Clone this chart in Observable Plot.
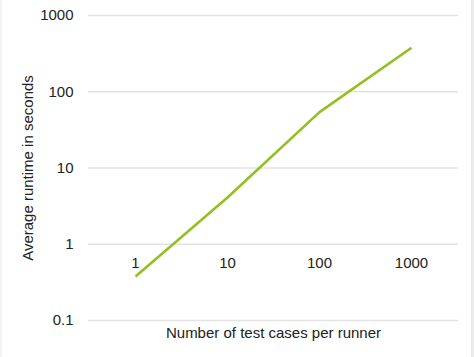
<!DOCTYPE html>
<html>
<head>
<meta charset="utf-8">
<script src="https://cdn.jsdelivr.net/npm/d3@7"></script>
<script src="https://cdn.jsdelivr.net/npm/@observablehq/plot@0.6"></script>
<style>
  html, body { margin: 0; padding: 0; background: #fff; }
  #wrap { position: relative; width: 474px; height: 357px; overflow: hidden; }
  #wrap::before { content: ""; position: absolute; left: 0; top: 0; width: 2px; height: 357px; background: #f2f2f2; }
  #wrap::after { content: ""; position: absolute; left: 471px; top: 0; width: 3px; height: 357px; background: #ebebeb; }
</style>
</head>
<body>
<div id="wrap"></div>
<script>
const categories = ["1", "10", "100", "1000"];
const runtimes = [0.377, 4.1, 54, 378];
const yTicks = [0.1, 1, 10, 100, 1000];
const yTickLabels = ["0.1", "1", "10", "100", "1000"];

const data = categories.map((c, i) => ({cases: c, runtime: runtimes[i]}));

const chart = Plot.plot({
  width: 474,
  height: 357,
  marginLeft: 88,
  marginRight: 16,
  marginTop: 15,
  marginBottom: 37,
  style: {fontFamily: "'Liberation Sans', Arial, sans-serif", fontSize: "15px", color: "#222", background: "#fff"},
  x: {type: "point", domain: categories, padding: 0.5, axis: null},
  y: {type: "log", domain: [0.1, 1000], axis: null},
  marks: [
    Plot.ruleY(yTicks, {stroke: "#e3e3e3", strokeWidth: 1.3}),
    Plot.axisY({ticks: yTicks, tickFormat: d => yTickLabels[yTicks.indexOf(d)], tickSize: 0, tickPadding: 15, label: null, fontSize: 15, fill: "#222"}),
    Plot.text(categories, {x: d => d, y: () => 1, dy: 19, text: d => d, fontSize: 15, fill: "#222"}),
    Plot.line(data, {x: "cases", y: "runtime", stroke: "#91c11f", strokeWidth: 2.6, strokeLinecap: "butt"}),
    Plot.text(["Average runtime in seconds"], {frameAnchor: "left", textAnchor: "middle", dx: -60, rotate: -90, text: d => d, fontSize: 15, fill: "#222"}),
    Plot.text(["Number of test cases per runner"], {frameAnchor: "bottom", dy: 17, text: d => d, fontSize: 15, fill: "#222"})
  ]
});
document.getElementById("wrap").appendChild(chart);
</script>
</body>
</html>
